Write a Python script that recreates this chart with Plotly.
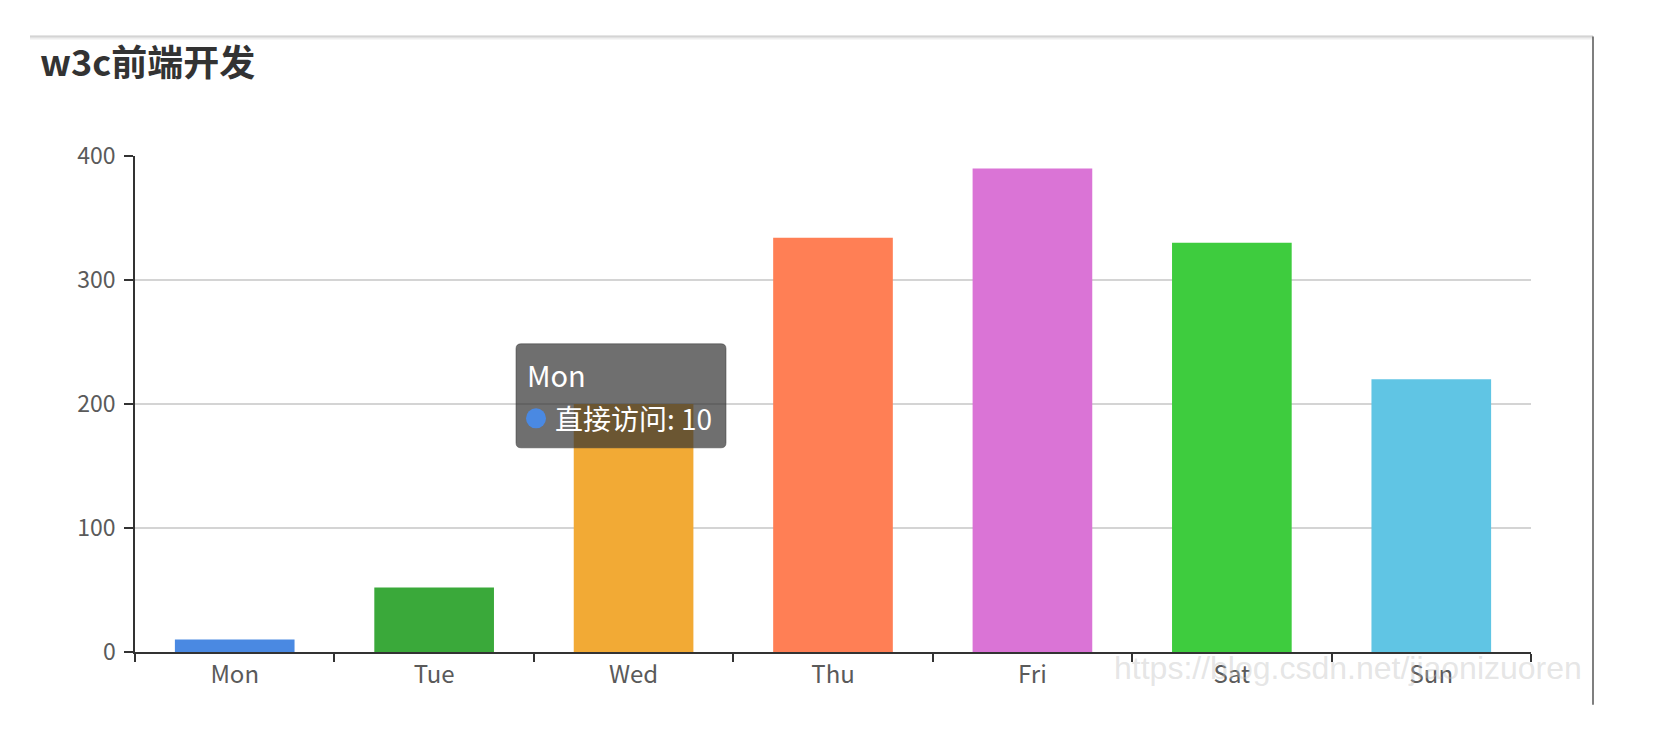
import plotly.graph_objects as go

days = ["Mon", "Tue", "Wed", "Thu", "Fri", "Sat", "Sun"]
visits = [10, 52, 200, 334, 390, 330, 220]
bar_colors = ["#4a89e2", "#3aa93a", "#f2aa35", "#ff7f55", "#da74d6", "#3ecc3e", "#60c5e4"]
series_name = "直接访问"
y_ticks = [0, 100, 200, 300, 400]

FONT = "Noto Sans CJK SC, Microsoft YaHei, sans-serif"

# page pixel -> paper fraction (page has an 8px body margin)
PLOT_L, PLOT_R, PLOT_T, PLOT_B = 135, 1531, 156, 652.3


def px(x):
    return (x - PLOT_L) / (PLOT_R - PLOT_L)


def py(y):
    return (PLOT_B - y) / (PLOT_B - PLOT_T)


fig = go.Figure()
fig.add_trace(go.Bar(
    x=days,
    y=visits,
    name=series_name,
    marker=dict(color=bar_colors, line=dict(width=0)),
    hovertemplate="%{x}<br>" + series_name + ": %{y}<extra></extra>",
))

fig.update_layout(
    width=1660,
    height=722,
    paper_bgcolor="white",
    plot_bgcolor="white",
    showlegend=False,
    bargap=0.4,
    margin=dict(l=127, r=137, t=148, b=78),
    font=dict(family=FONT, color="#555555", size=24),
    title=dict(
        text="<b>w3c前端开发</b>",
        xref="container", yref="container",
        x=0.0193, y=0.9231, xanchor="left", yanchor="middle",
        font=dict(family=FONT, size=36, color="#333333"),
    ),
)

fig.update_yaxes(
    range=[0, 400],
    tickvals=y_ticks,
    showgrid=True, gridcolor="#d4d4d4", gridwidth=1.5,
    showline=True, linecolor="#333333", linewidth=1.5,
    ticks="outside", ticklen=9, tickcolor="#333333", tickwidth=1.5,
    ticklabelstandoff=4,
    zeroline=False,
    tickfont=dict(size=23, color="#5a5a5a"),
)
fig.update_xaxes(
    showgrid=False,
    showline=True, linecolor="#333333", linewidth=1.5,
    ticks="outside", ticklen=8, tickcolor="#333333", tickwidth=1.5,
    tickson="boundaries",
    tickfont=dict(size=24, color="#5a5a5a"),
)

# page frame seen in the screenshot
fig.add_shape(type="line", xref="paper", yref="paper",
              x0=px(30), x1=px(1593), y0=py(37.5), y1=py(37.5),
              line=dict(color="#eeeeee", width=4))
fig.add_shape(type="line", xref="paper", yref="paper",
              x0=px(30), x1=px(1593), y0=py(36.5), y1=py(36.5),
              line=dict(color="#d4d4d4", width=2))
fig.add_shape(type="line", xref="paper", yref="paper",
              x0=px(1593), x1=px(1593), y0=py(705), y1=py(36.5),
              line=dict(color="#555555", width=1.5))

# tooltip box (hover state captured in reference)
fig.add_shape(
    type="path", xref="paper", yref="paper",
    xsizemode="pixel", ysizemode="pixel",
    xanchor=px(516), yanchor=py(448),
    path="M 5,0 L 205,0 Q 210,0 210,5 L 210,99 Q 210,104 205,104 L 5,104 Q 0,104 0,99 L 0,5 Q 0,0 5,0 Z",
    fillcolor="rgba(50,50,50,0.7)",
    line=dict(color="rgba(60,60,60,0.5)", width=1),
    layer="above",
)
fig.add_shape(
    type="circle", xref="paper", yref="paper",
    xsizemode="pixel", ysizemode="pixel",
    xanchor=px(536), yanchor=py(418.5),
    x0=-10, x1=10, y0=-10, y1=10,
    fillcolor=bar_colors[0], line=dict(width=0),
    layer="above",
)
fig.add_annotation(
    xref="paper", yref="paper", x=px(525), y=py(374),
    xanchor="left", yanchor="middle", showarrow=False, align="left",
    text=days[0], font=dict(family=FONT, size=29, color="white"),
)
fig.add_annotation(
    xref="paper", yref="paper", x=px(553), y=py(418),
    xanchor="left", yanchor="middle", showarrow=False, align="left",
    text="%s: %d" % (series_name, visits[0]),
    font=dict(family=FONT, size=28, color="white"),
)

# watermark
fig.add_annotation(
    xref="paper", yref="paper", x=px(1112), y=py(668),
    xanchor="left", yanchor="middle", showarrow=False,
    text="https://blog.csdn.net/jiaonizuoren",
    font=dict(family="Liberation Sans, Arial, sans-serif", size=32, color="rgba(190,190,190,0.4)"),
)

fig.write_html("out.html")
